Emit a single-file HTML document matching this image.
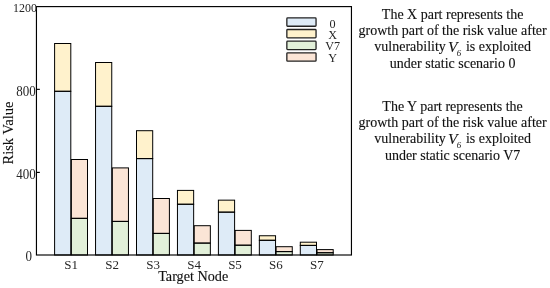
<!DOCTYPE html>
<html><head><meta charset="utf-8"><style>
html,body{margin:0;padding:0;background:#fff;}
svg{display:block;}
text{font-family:"Liberation Serif","Times New Roman",serif;fill:#111;stroke:#111;stroke-width:0.12px;}
.tk{font-size:13px;stroke-width:0;fill:#262626;}
.lg{font-size:12.2px;stroke-width:0;fill:#262626;}
.ax{font-size:14.2px;}
.rt{font-size:14px;}
.vi{font-style:italic;}
</style></head><body>
<svg width="550" height="288" viewBox="0 0 550 288">
<rect width="550" height="288" fill="#fff"/>
<rect x="54.60" y="91.30" width="16.20" height="163.70" fill="#DEEBF7"/>
<rect x="54.60" y="43.50" width="16.20" height="47.80" fill="#FFF2CC"/>
<rect x="71.35" y="218.35" width="16.15" height="36.65" fill="#E2F0D9"/>
<rect x="71.35" y="159.50" width="16.15" height="58.85" fill="#FBE5D6"/>
<rect x="95.55" y="106.30" width="16.20" height="148.70" fill="#DEEBF7"/>
<rect x="95.55" y="62.50" width="16.20" height="43.80" fill="#FFF2CC"/>
<rect x="112.30" y="221.40" width="16.15" height="33.60" fill="#E2F0D9"/>
<rect x="112.30" y="167.90" width="16.15" height="53.50" fill="#FBE5D6"/>
<rect x="136.50" y="158.60" width="16.20" height="96.40" fill="#DEEBF7"/>
<rect x="136.50" y="130.70" width="16.20" height="27.90" fill="#FFF2CC"/>
<rect x="153.25" y="233.40" width="16.15" height="21.60" fill="#E2F0D9"/>
<rect x="153.25" y="198.50" width="16.15" height="34.90" fill="#FBE5D6"/>
<rect x="177.45" y="204.25" width="16.20" height="50.75" fill="#DEEBF7"/>
<rect x="177.45" y="190.40" width="16.20" height="13.85" fill="#FFF2CC"/>
<rect x="194.20" y="243.10" width="16.15" height="11.90" fill="#E2F0D9"/>
<rect x="194.20" y="225.70" width="16.15" height="17.40" fill="#FBE5D6"/>
<rect x="218.40" y="212.15" width="16.20" height="42.85" fill="#DEEBF7"/>
<rect x="218.40" y="200.15" width="16.20" height="12.00" fill="#FFF2CC"/>
<rect x="235.15" y="245.20" width="16.15" height="9.80" fill="#E2F0D9"/>
<rect x="235.15" y="230.40" width="16.15" height="14.80" fill="#FBE5D6"/>
<rect x="259.35" y="240.30" width="16.20" height="14.70" fill="#DEEBF7"/>
<rect x="259.35" y="235.75" width="16.20" height="4.55" fill="#FFF2CC"/>
<rect x="276.10" y="251.60" width="16.15" height="3.40" fill="#E2F0D9"/>
<rect x="276.10" y="246.70" width="16.15" height="4.90" fill="#FBE5D6"/>
<rect x="300.30" y="245.40" width="16.20" height="9.60" fill="#DEEBF7"/>
<rect x="300.30" y="242.20" width="16.20" height="3.20" fill="#FFF2CC"/>
<rect x="317.05" y="252.75" width="16.15" height="2.25" fill="#E2F0D9"/>
<rect x="317.05" y="249.60" width="16.15" height="3.15" fill="#FBE5D6"/>
<rect x="54.60" y="91.30" width="16.20" height="163.70" fill="none" stroke="#000" stroke-width="1.0"/>
<rect x="54.60" y="43.50" width="16.20" height="47.80" fill="none" stroke="#000" stroke-width="1.0"/>
<rect x="71.35" y="218.35" width="16.15" height="36.65" fill="none" stroke="#000" stroke-width="1.0"/>
<rect x="71.35" y="159.50" width="16.15" height="58.85" fill="none" stroke="#000" stroke-width="1.0"/>
<rect x="95.55" y="106.30" width="16.20" height="148.70" fill="none" stroke="#000" stroke-width="1.0"/>
<rect x="95.55" y="62.50" width="16.20" height="43.80" fill="none" stroke="#000" stroke-width="1.0"/>
<rect x="112.30" y="221.40" width="16.15" height="33.60" fill="none" stroke="#000" stroke-width="1.0"/>
<rect x="112.30" y="167.90" width="16.15" height="53.50" fill="none" stroke="#000" stroke-width="1.0"/>
<rect x="136.50" y="158.60" width="16.20" height="96.40" fill="none" stroke="#000" stroke-width="1.0"/>
<rect x="136.50" y="130.70" width="16.20" height="27.90" fill="none" stroke="#000" stroke-width="1.0"/>
<rect x="153.25" y="233.40" width="16.15" height="21.60" fill="none" stroke="#000" stroke-width="1.0"/>
<rect x="153.25" y="198.50" width="16.15" height="34.90" fill="none" stroke="#000" stroke-width="1.0"/>
<rect x="177.45" y="204.25" width="16.20" height="50.75" fill="none" stroke="#000" stroke-width="1.0"/>
<rect x="177.45" y="190.40" width="16.20" height="13.85" fill="none" stroke="#000" stroke-width="1.0"/>
<rect x="194.20" y="243.10" width="16.15" height="11.90" fill="none" stroke="#000" stroke-width="1.0"/>
<rect x="194.20" y="225.70" width="16.15" height="17.40" fill="none" stroke="#000" stroke-width="1.0"/>
<rect x="218.40" y="212.15" width="16.20" height="42.85" fill="none" stroke="#000" stroke-width="1.0"/>
<rect x="218.40" y="200.15" width="16.20" height="12.00" fill="none" stroke="#000" stroke-width="1.0"/>
<rect x="235.15" y="245.20" width="16.15" height="9.80" fill="none" stroke="#000" stroke-width="1.0"/>
<rect x="235.15" y="230.40" width="16.15" height="14.80" fill="none" stroke="#000" stroke-width="1.0"/>
<rect x="259.35" y="240.30" width="16.20" height="14.70" fill="none" stroke="#000" stroke-width="1.0"/>
<rect x="259.35" y="235.75" width="16.20" height="4.55" fill="none" stroke="#000" stroke-width="1.0"/>
<rect x="276.10" y="251.60" width="16.15" height="3.40" fill="none" stroke="#000" stroke-width="1.0"/>
<rect x="276.10" y="246.70" width="16.15" height="4.90" fill="none" stroke="#000" stroke-width="1.0"/>
<rect x="300.30" y="245.40" width="16.20" height="9.60" fill="none" stroke="#000" stroke-width="1.0"/>
<rect x="300.30" y="242.20" width="16.20" height="3.20" fill="none" stroke="#000" stroke-width="1.0"/>
<rect x="317.05" y="252.75" width="16.15" height="2.25" fill="none" stroke="#000" stroke-width="1.0"/>
<rect x="317.05" y="249.60" width="16.15" height="3.15" fill="none" stroke="#000" stroke-width="1.0"/>
<rect x="36.45" y="6.6" width="315.0" height="248.40" fill="none" stroke="#000" stroke-width="1.15"/>
<line x1="36.45" y1="89.35" x2="39.85" y2="89.35" stroke="#000" stroke-width="1.15"/>
<line x1="36.45" y1="172.40" x2="39.85" y2="172.40" stroke="#000" stroke-width="1.15"/>
<text transform="translate(37.0,12.4) scale(0.92,1.02)" text-anchor="end" class="tk">1200</text>
<text transform="translate(35.7,95.5) scale(1.0,1.07)" text-anchor="end" class="tk">800</text>
<text transform="translate(35.7,178.7) scale(1.0,1.07)" text-anchor="end" class="tk">400</text>
<text transform="translate(32.0,261.2) scale(1.0,1.07)" text-anchor="end" class="tk">0</text>
<text transform="translate(71.20,269.4) scale(1.0,1.0)" text-anchor="middle" class="tk">S1</text>
<text transform="translate(112.15,269.4) scale(1.0,1.0)" text-anchor="middle" class="tk">S2</text>
<text transform="translate(153.10,269.4) scale(1.0,1.0)" text-anchor="middle" class="tk">S3</text>
<text transform="translate(194.05,269.4) scale(1.0,1.0)" text-anchor="middle" class="tk">S4</text>
<text transform="translate(235.00,269.4) scale(1.0,1.0)" text-anchor="middle" class="tk">S5</text>
<text transform="translate(275.95,269.4) scale(1.0,1.0)" text-anchor="middle" class="tk">S6</text>
<text transform="translate(316.90,269.4) scale(1.0,1.0)" text-anchor="middle" class="tk">S7</text>
<rect x="286.85" y="17.85" width="29.2" height="8.4" rx="0.8" fill="#DEEBF7" stroke="#222" stroke-width="1.3"/>
<text transform="translate(332.6,27.7) scale(1.0,1.1)" text-anchor="middle" class="lg">0</text>
<rect x="286.85" y="29.50" width="29.2" height="8.4" rx="0.8" fill="#FFF2CC" stroke="#222" stroke-width="1.3"/>
<text transform="translate(332.6,39.0) scale(1.0,1.1)" text-anchor="middle" class="lg">X</text>
<rect x="286.85" y="41.15" width="29.2" height="8.4" rx="0.8" fill="#E2F0D9" stroke="#222" stroke-width="1.3"/>
<text transform="translate(332.6,50.4) scale(1.0,1.1)" text-anchor="middle" class="lg">V7</text>
<rect x="286.85" y="52.80" width="29.2" height="8.4" rx="0.8" fill="#FBE5D6" stroke="#222" stroke-width="1.3"/>
<text transform="translate(332.6,62.0) scale(1.0,1.1)" text-anchor="middle" class="lg">Y</text>
<text x="193.2" y="281.3" text-anchor="middle" class="ax">Target Node</text>
<text transform="translate(13.1,133) rotate(-90)" text-anchor="middle" class="ax" style="font-size:14.5px">Risk Value</text>
<text x="452.6" y="18.60" text-anchor="middle" class="rt">The X part represents the</text>
<text x="452.6" y="34.90" text-anchor="middle" class="rt">growth part of the risk value after</text>
<text x="452.6" y="51.20" text-anchor="middle" class="rt">vulnerability <tspan class="vi" font-size="15.6" dx="-1.4" dy="0.5">V</tspan><tspan font-size="8.8" font-style="italic" stroke-width="0" dx="-0.6" dy="3.9">6</tspan><tspan dy="-4.4" dx="1.2"> is exploited</tspan></text>
<text x="452.6" y="67.50" text-anchor="middle" class="rt">under static scenario 0</text>
<text x="452.6" y="110.60" text-anchor="middle" class="rt">The Y part represents the</text>
<text x="452.6" y="126.90" text-anchor="middle" class="rt">growth part of the risk value after</text>
<text x="452.6" y="143.20" text-anchor="middle" class="rt">vulnerability <tspan class="vi" font-size="15.6" dx="-1.4" dy="0.5">V</tspan><tspan font-size="8.8" font-style="italic" stroke-width="0" dx="-0.6" dy="3.9">6</tspan><tspan dy="-4.4" dx="1.2"> is exploited</tspan></text>
<text x="452.6" y="159.50" text-anchor="middle" class="rt">under static scenario V7</text>
</svg>
</body></html>
